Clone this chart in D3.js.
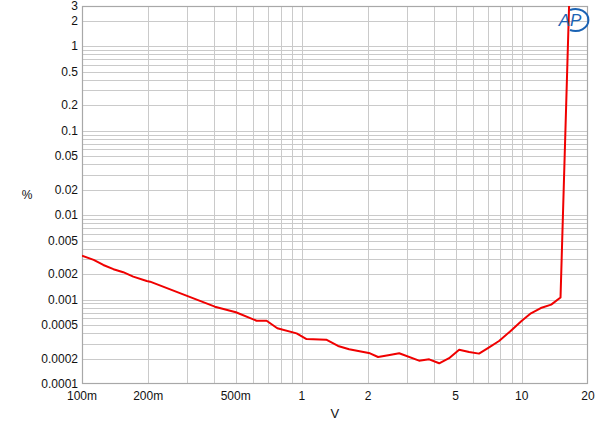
<!DOCTYPE html>
<html>
<head>
<meta charset="utf-8">
<script src="https://cdn.jsdelivr.net/npm/d3@7"></script>
<style>
  body { margin: 0; background: #fff; }
  text { font-family: "Liberation Sans", Arial, sans-serif; }
</style>
</head>
<body>
<svg id="chart" width="600" height="430"></svg>
<script>
// THD+N (%) vs output voltage (V)
var volts = [0.1, 0.113, 0.125, 0.139, 0.154, 0.171, 0.197, 0.204, 0.402, 0.501, 0.622, 0.691, 0.773,
  0.946, 1.05, 1.29, 1.46, 1.64, 2.04, 2.22, 2.47, 2.77, 3.41, 3.79, 4.21, 4.67, 5.19, 5.76, 6.39,
  7.1, 7.88, 8.82, 9.97, 11.0, 12.2, 13.6, 15.0, 16.5]
var thd = [0.0033, 0.00295, 0.00257, 0.00229, 0.00211, 0.00187, 0.00166, 0.00163, 0.000824, 0.000707,
  0.000562, 0.000562, 0.000457, 0.000398, 0.000341, 0.000335, 0.000282, 0.000258, 0.000231, 0.000209,
  0.000219, 0.000231, 0.000189, 0.000196, 0.000176, 0.000202, 0.000255, 0.000239, 0.000229, 0.000272,
  0.000323, 0.000417, 0.000558, 0.000688, 0.000794, 0.000871, 0.00106, 5]

var xTicks = [0.1, 0.2, 0.5, 1, 2, 5, 10, 20]
var xTickLabels = ['100m', '200m', '500m', '1', '2', '5', '10', '20']
var yTicks = [3, 2, 1, 0.5, 0.2, 0.1, 0.05, 0.02, 0.01, 0.005, 0.002, 0.001, 0.0005, 0.0002, 0.0001]

var margin = {left: 82, top: 6, right: 12, bottom: 46}
var W = 600, H = 430
var svg = d3.select('#chart')

var x = d3.scaleLog().domain([0.1, 20]).range([margin.left, W - margin.right])
var y = d3.scaleLog().domain([0.0001, 3]).range([H - margin.bottom, margin.top])

// grid values: 1..9 per decade
var xGrid = [], yGrid = []
for (var e = -1; e <= 1; e++) {
  for (var m = 1; m <= 9; m++) {
    var v = m * Math.pow(10, e)
    if (v > 0.1 && v < 20) xGrid.push(v)
  }
}
for (var e2 = -4; e2 <= 0; e2++) {
  for (var m2 = 1; m2 <= 9; m2++) {
    var v2 = m2 * Math.pow(10, e2)
    if (v2 > 0.0001 && v2 < 3) yGrid.push(v2)
  }
}
yGrid.push(2)

svg.append('g').selectAll('line').data(xGrid).enter().append('line')
  .attr('x1', function (d) { return Math.round(x(d)) + 0.5 })
  .attr('x2', function (d) { return Math.round(x(d)) + 0.5 })
  .attr('y1', margin.top).attr('y2', H - margin.bottom)
  .attr('stroke', '#cacaca').attr('stroke-width', 1)

svg.append('g').selectAll('line').data(yGrid).enter().append('line')
  .attr('y1', function (d) { return Math.round(y(d)) + 0.5 })
  .attr('y2', function (d) { return Math.round(y(d)) + 0.5 })
  .attr('x1', margin.left).attr('x2', W - margin.right)
  .attr('stroke', '#cacaca').attr('stroke-width', 1)

// frame
svg.append('rect')
  .attr('x', margin.left + 0.5).attr('y', margin.top + 0.5)
  .attr('width', W - margin.left - margin.right - 1)
  .attr('height', H - margin.top - margin.bottom - 1)
  .attr('fill', 'none').attr('stroke', '#a8a8a8').attr('stroke-width', 1.2)

// axes labels
svg.append('g').selectAll('text').data(xTicks).enter().append('text')
  .attr('x', function (d) { return x(d) })
  .attr('y', H - margin.bottom + 16)
  .attr('text-anchor', 'middle')
  .attr('font-size', 12)
  .attr('fill', '#111')
  .text(function (d, i) { return xTickLabels[i] })

svg.append('g').selectAll('text').data(yTicks).enter().append('text')
  .attr('x', margin.left - 4)
  .attr('y', function (d) { return y(d) + 4 })
  .attr('text-anchor', 'end')
  .attr('font-size', 12)
  .attr('fill', '#111')
  .text(function (d) { return d })

svg.append('text').attr('x', x(1) + 33).attr('y', 418)
  .attr('text-anchor', 'middle').attr('font-size', 13).attr('fill', '#111').text('V')
svg.append('text').attr('x', 27).attr('y', 199)
  .attr('text-anchor', 'middle').attr('font-size', 12).attr('fill', '#111').text('%')

// curve
svg.append('clipPath').attr('id', 'clip').append('rect')
  .attr('x', margin.left).attr('y', margin.top)
  .attr('width', W - margin.left - margin.right)
  .attr('height', H - margin.top - margin.bottom)

var line = d3.line()
  .x(function (d) { return x(d[0]) })
  .y(function (d) { return y(d[1]) })

svg.append('path')
  .datum(d3.zip(volts, thd))
  .attr('clip-path', 'url(#clip)')
  .attr('d', line)
  .attr('fill', 'none')
  .attr('stroke', '#f00000')
  .attr('stroke-width', 2)
  .attr('stroke-linejoin', 'round')

// AP logo
var logo = svg.append('g').attr('transform', 'translate(572,20)')
logo.append('path')
  .attr('d', 'M -2 10 A 13 11 0 1 0 -2 -10')
  .attr('fill', 'none').attr('stroke', '#1b63b4').attr('stroke-width', 2)
logo.append('text')
  .attr('x', -2).attr('y', 6)
  .attr('text-anchor', 'middle')
  .attr('font-size', 17).attr('font-style', 'italic')
  .attr('fill', '#1b63b4')
  .text('AP')
</script>
</body>
</html>
